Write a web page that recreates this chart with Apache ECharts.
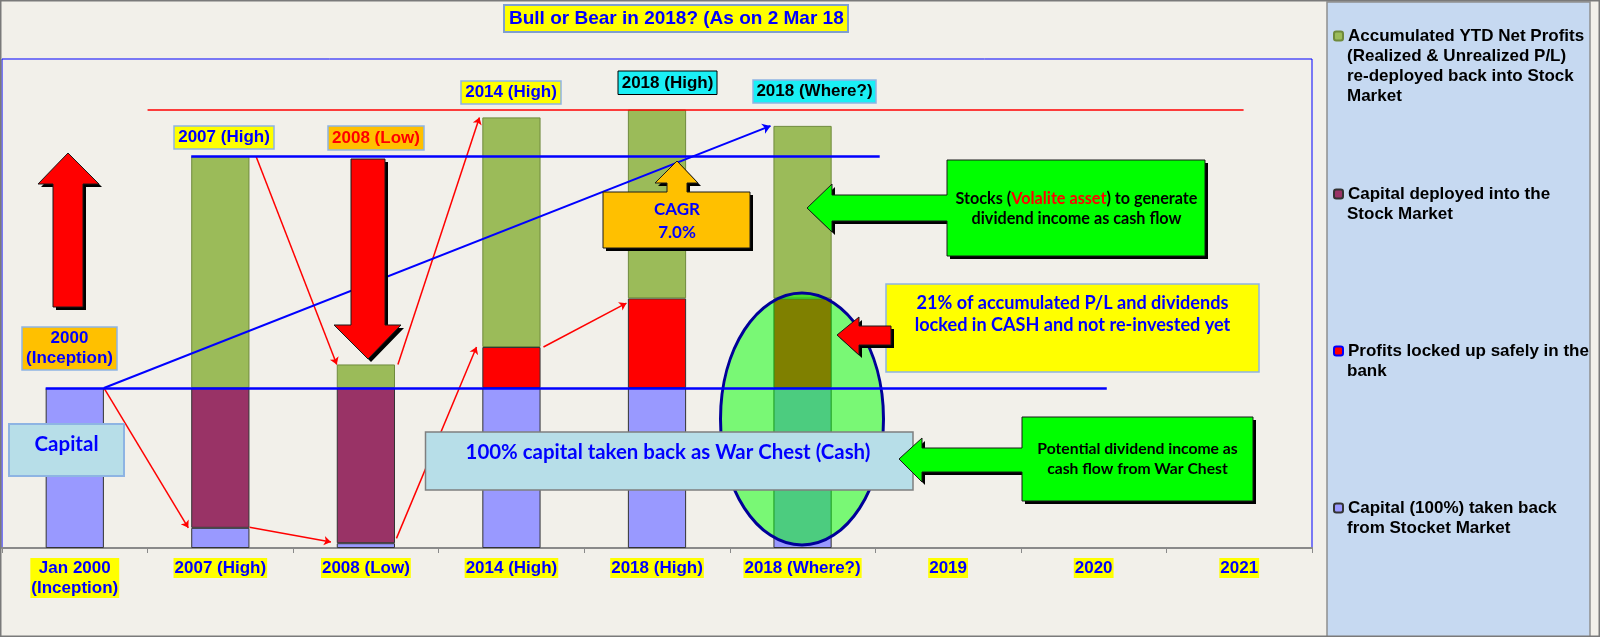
<!DOCTYPE html>
<html><head><meta charset="utf-8">
<script src="https://cdn.jsdelivr.net/npm/echarts@6/dist/echarts.min.js"></script>
<style>html,body{margin:0;padding:0;background:#F2F0EA}#c{width:1600px;height:637px}</style>
</head><body><div id="c"></div>
<script>
// ---- data ----
const categories = ['Jan 2000\n(Inception)', '2007 (High)', '2008 (Low)', '2014 (High)', '2018 (High)', '2018 (Where?)', '2019', '2020', '2021'];
const capitalBack     = [100, 12.6, 3,  100,  100, 100,  null, null, null];
const capitalDeployed = [null, 87.4, 97, null, null, null, null, null, null];
const profitsBank     = [null, null, null, 25.6, 56,  56,   null, null, null];
const accumulated     = [null, 144.8, 14.7, 143.5, 118, 107.8, null, null, null];
const seriesNames = [
  'Accumulated YTD Net Profits (Realized & Unrealized P/L) re-deployed back into Stock Market',
  'Capital deployed into the Stock Market',
  'Profits locked up safely in the bank',
  'Capital (100%) taken back from Stocket Market'
];
const legendLines = [
  ['Accumulated YTD Net Profits', '(Realized & Unrealized P/L)', 're-deployed back into Stock', 'Market'],
  ['Capital deployed into the', 'Stock Market'],
  ['Profits locked up safely in the', 'bank'],
  ['Capital (100%) taken back', 'from Stocket Market']
];
const titleText = 'Bull or Bear in 2018? (As on 2 Mar 18';

// ---- helpers ----
const stacks = [capitalBack, capitalDeployed, profitsBank, accumulated];
function topOf(i) { return stacks.reduce((s, a) => s + (a[i] || 0), 0); }
const HW = 0.2; // half bar width in category units

const chart = echarts.init(document.getElementById('c'));

const redArrows = [
  [[0 + HW, topOf(0)], [1 - 0.22, capitalBack[1]]],
  [[1 + HW, capitalBack[1] + 0.4], [2 - 0.24, capitalBack[2] + 0.8]],
  [[2 + 0.21, capitalBack[2] + 3], [3 - 0.24, capitalBack[3] + profitsBank[3]]],
  [[3 + 0.22, capitalBack[3] + profitsBank[3]], [4 - 0.21, capitalBack[4] + profitsBank[4] - 3]],
  [[1 + 0.245, topOf(1)], [2 - HW, topOf(2)]],
  [[2 + 0.22, topOf(2)], [3 - 0.22, topOf(3)]]
];
const blueArrow = [[[0 + HW, capitalBack[0]], [5 - 0.22, topOf(5)]]];
const blueLines = [
  [[1 - HW, topOf(1)], [5.53, topOf(1)]],
  [[0 - HW, capitalBack[0]], [7.09, capitalBack[0]]]
];
const redLine = [[[0.5, topOf(4)], [8.03, topOf(4)]]];

// graphics
const G = [];
const FONT_C = 'Lato, "Open Sans", sans-serif';
const FONT_A = '"Liberation Sans", Arial, sans-serif';
function rect(x, y, w, h, fill, stroke, lw, z) {
  G.push({type: 'rect', silent: true, z: z, shape: {x, y, width: w, height: h}, style: {fill, stroke, lineWidth: lw}});
}
function txt(x, y, text, o) {
  G.push({type: 'text', silent: true, z: o.z || 8, x, y, style: Object.assign({
    text, align: 'center', verticalAlign: 'middle'}, o.style)});
}
function poly(pts, fill, z, sh) {
  if (sh) G.push({type: 'polygon', silent: true, z: z, shape: {points: pts.map(p => [p[0] + sh, p[1] + sh])}, style: {fill: '#000'}});
  G.push({type: 'polygon', silent: true, z: z + 1, shape: {points: pts}, style: {fill, stroke: '#1a1a1a', lineWidth: 1}});
}

// legend panel + outer border
rect(1327, 2, 263, 640, '#C6D9F1', '#8E8E8E', 1.5, 1);
rect(0.75, 0.75, 1598.5, 635.5, 'none', '#7A7A7A', 1.5, 1);

// ellipse
G.push({type: 'ellipse', silent: true, z: 3, shape: {cx: 802, cy: 419, rx: 81.5, ry: 126},
  style: {fill: 'rgba(0,255,0,0.5)', stroke: '#000099', lineWidth: 3}});

// label boxes
const lblA = (c) => ({fontFamily: FONT_A, fontWeight: 'bold', fontSize: 17, fill: c});
rect(22, 327, 95, 43, '#FFC000', '#8EB4E3', 1.5, 5);
txt(69.5, 348.5, '2000\n(Inception)', {style: Object.assign(lblA('#0000FF'), {lineHeight: 20})});
rect(9, 424, 115, 52, '#B7DEE8', '#8EB4E3', 2, 5);
txt(66.5, 444, 'Capital', {style: {fontFamily: FONT_C, fontWeight: 'bold', fontSize: 20.5, fill: '#0000FF'}});
rect(174, 126, 100, 23, '#FFFF00', '#8EB4E3', 1.5, 5);
txt(224, 137.5, '2007 (High)', {style: lblA('#0000FF')});
rect(328, 126, 96, 24, '#FFC000', '#8EB4E3', 1.5, 5);
txt(376, 138, '2008 (Low)', {style: lblA('#FF0000')});
rect(461, 81, 100, 23, '#FFFF00', '#8EB4E3', 1.5, 5);
txt(511, 92.5, '2014 (High)', {style: lblA('#0000FF')});
rect(618, 71, 99, 23.5, '#1AEFF5', '#000000', 1, 5);
txt(667.5, 83, '2018 (High)', {style: lblA('#000000')});
rect(753, 80, 123, 23, '#1AEFF5', '#8EB4E3', 1.5, 5);
txt(814.5, 91.5, '2018 (Where?)', {style: lblA('#000000')});
rect(425.5, 432, 487.5, 58, '#B7DEE8', '#7F7F7F', 1.5, 5);
txt(668, 452, '100% capital taken back as War Chest (Cash)', {style: {fontFamily: FONT_C, fontWeight: 'bold', fontSize: 20.4, fill: '#0000FF'}});
rect(886, 284, 373, 88, '#FFFF00', '#8EB4E3', 1.5, 5);
txt(1072.5, 314, '21% of accumulated P/L and dividends\nlocked in CASH and not re-invested yet',
  {style: {fontFamily: FONT_C, fontWeight: 'bold', fontSize: 18.1, lineHeight: 22.3, fill: '#0000FF'}});

// block arrows / callouts
poly([[68,153],[99,184],[83,184],[83,307],[53,307],[53,184],[38,184]], '#FF0000', 6, 3);
poly([[351,159],[385,159],[385,325],[401,325],[368,359],[334,325],[351,325]], '#FF0000', 6, 3);
poly([[603,192],[667,192],[667,183],[655,183],[677,161],[698,183],[687,183],[687,192],[750,192],[750,248],[603,248]], '#FFC000', 6, 3);
txt(677, 221, 'CAGR\n7.0%', {style: {fontFamily: FONT_C, fontWeight: 'bold', fontSize: 17, lineHeight: 23.5, fill: '#0000FF'}});
poly([[947,160],[1205,160],[1205,256],[947,256],[947,221],[832,221],[832,232],[807,208],[832,184],[832,195],[947,195]], '#00FF00', 6, 3);
const ks = {fontFamily: FONT_C, fontWeight: 'bold', fontSize: 16.2, fill: '#000000', lineHeight: 20};
txt(1076.5, 209, '{k|Stocks (}{r|Volalite asset}{k|) to generate}\n{k|dividend income as cash flow}',
  {style: {rich: {k: ks, r: Object.assign({}, ks, {fill: '#FF0000'})}}});
poly([[1022,417],[1253,417],[1253,501],[1022,501],[1022,472],[922,472],[922,482],[899,459],[922,438],[922,448],[1022,448]], '#00FF00', 6, 3);
txt(1137.5, 459, 'Potential dividend income as\ncash flow from War Chest', {style: Object.assign({}, ks, {fontSize: 15.7})});
poly([[891,326],[891,345],[859,345],[859,355],[837,335],[859,317],[859,326]], '#FF0000', 6, 3);

// legends (first line in legend, wrapped continuation lines as text below)
const legendY = [36, 194, 351, 508];
const legendFont = {fontFamily: FONT_A, fontWeight: 'bold', fontSize: 17, lineHeight: 20};
const legends = seriesNames.map((n, i) => ({
  data: [i === 2 ? {name: n, itemStyle: {borderColor: '#0000FF'}} : n],
  orient: 'vertical', left: 1333, top: legendY[i] - 10, padding: 0,
  itemWidth: 9, itemHeight: 9, selectedMode: false, z: 6,
  formatter: () => legendLines[i][0],
  textStyle: Object.assign({color: '#000'}, legendFont)
}));
legendLines.forEach((lines, i) => {
  lines.slice(1).forEach((ln, j) => {
    G.push({type: 'text', silent: true, z: 8, x: 1347, y: legendY[i] + 20 * (j + 1),
      style: Object.assign({text: ln, align: 'left', verticalAlign: 'middle', fill: '#000'}, legendFont)});
  });
});

const barBase = {type: 'bar', stack: 's', barWidth: '40%', xAxisIndex: 0, yAxisIndex: 0, silent: true, z: 2};

chart.setOption({
  animation: false,
  backgroundColor: '#F2F0EA',
  title: {text: titleText, left: 504, top: 5, padding: [3, 5, 3, 5], backgroundColor: '#FFFF00',
    borderColor: '#7F9FCF', borderWidth: 2,
    textStyle: {fontFamily: FONT_A, fontSize: 19, fontWeight: 'bold', color: '#0000FF', lineHeight: 21}},
  legend: legends,
  grid: {left: 2, right: 288, top: 59, bottom: 89, show: true, borderColor: '#0000FF', borderWidth: 1, backgroundColor: 'transparent'},
  xAxis: [
    {type: 'category', data: categories, boundaryGap: true,
      axisLine: {lineStyle: {color: '#8A8A8A', width: 2}},
      axisTick: {show: true, length: 5, lineStyle: {color: '#8A8A8A', width: 1}},
      axisLabel: {interval: 0, margin: 10, fontFamily: FONT_A, fontWeight: 'bold', fontSize: 17, lineHeight: 20,
        color: '#0000FF', backgroundColor: '#FFFF00', padding: [0, 1, 0, 1]}},
    {type: 'value', min: -0.5, max: 8.5, show: false}
  ],
  yAxis: {type: 'value', min: 0, max: 305.6, show: false},
  graphic: G,
  series: [
    Object.assign({}, barBase, {name: seriesNames[3], data: capitalBack, itemStyle: {color: '#9999FF', borderColor: '#333', borderWidth: 1}}),
    Object.assign({}, barBase, {name: seriesNames[1], data: capitalDeployed, itemStyle: {color: '#993366', borderColor: '#333', borderWidth: 1}}),
    Object.assign({}, barBase, {name: seriesNames[2], data: profitsBank, itemStyle: {color: '#FF0000', borderColor: '#333', borderWidth: 1}}),
    Object.assign({}, barBase, {name: seriesNames[0], data: accumulated, itemStyle: {color: '#9BBB59', borderColor: '#6F8A3C', borderWidth: 1}}),
    {type: 'lines', coordinateSystem: 'cartesian2d', xAxisIndex: 1, yAxisIndex: 0, z: 4, silent: true,
      symbol: ['none', 'arrow'], symbolSize: 7, lineStyle: {color: '#FF0000', width: 1.5, opacity: 1},
      data: redArrows.map(c => ({coords: c}))},
    {type: 'lines', coordinateSystem: 'cartesian2d', xAxisIndex: 1, yAxisIndex: 0, z: 4, silent: true,
      symbol: ['none', 'arrow'], symbolSize: 8, lineStyle: {color: '#0000FF', width: 2, opacity: 1},
      data: blueArrow.map(c => ({coords: c}))},
    {type: 'lines', coordinateSystem: 'cartesian2d', xAxisIndex: 1, yAxisIndex: 0, z: 4, silent: true,
      symbol: 'none', lineStyle: {color: '#0000FF', width: 2.5, opacity: 1},
      data: blueLines.map(c => ({coords: c}))},
    {type: 'lines', coordinateSystem: 'cartesian2d', xAxisIndex: 1, yAxisIndex: 0, z: 4, silent: true,
      symbol: 'none', lineStyle: {color: '#FF0000', width: 1.5, opacity: 1},
      data: redLine.map(c => ({coords: c}))}
  ]
});
</script></body></html>
